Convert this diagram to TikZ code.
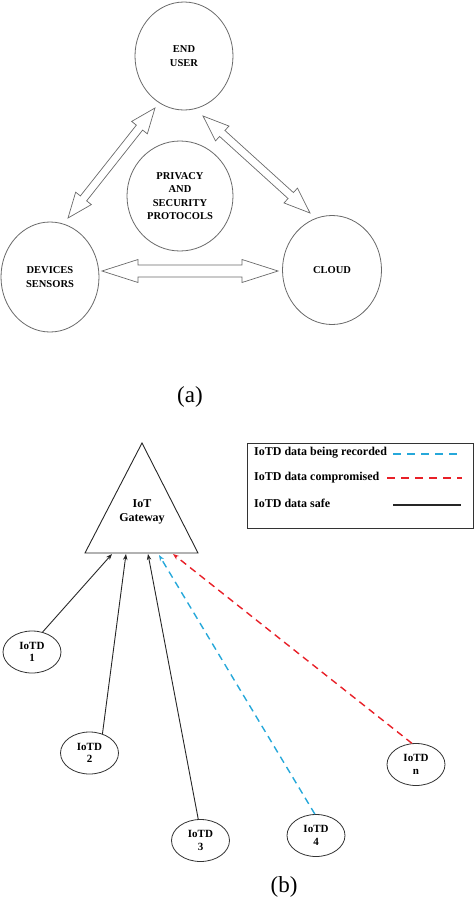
\documentclass[tikz,border=0pt]{standalone}
\usepackage{fontspec}
\setmainfont{Liberation Serif}
\usepackage{tikz}
\usetikzlibrary{arrows.meta,calc,shapes.geometric}

\definecolor{edgegray}{RGB}{105,105,105}
\definecolor{recblue}{RGB}{38,168,218}
\definecolor{badred}{RGB}{232,32,40}

% hollow double arrow between two tip points: tips, head length, head half width, shaft half width
\newcommand{\hollowarrow}[5]{%
  \draw[flowarrow] (#1)
    -- ($($(#1)!#3!(#2)$)!#4!90:(#2)$)
    -- ($($(#1)!#3!(#2)$)!#5!90:(#2)$)
    -- ($($(#2)!#3!(#1)$)!#5!-90:(#1)$)
    -- ($($(#2)!#3!(#1)$)!#4!-90:(#1)$)
    -- (#2)
    -- ($($(#2)!#3!(#1)$)!#4!90:(#1)$)
    -- ($($(#2)!#3!(#1)$)!#5!90:(#1)$)
    -- ($($(#1)!#3!(#2)$)!#5!-90:(#2)$)
    -- ($($(#1)!#3!(#2)$)!#4!-90:(#2)$)
    -- cycle;}

\tikzset{
  bubble/.style={ellipse,draw=edgegray,line width=0.8pt,inner sep=0pt,align=center,
    font=\bfseries\fontsize{10.5}{13.3}\selectfont},
  flowarrow/.style={draw=edgegray,line width=0.7pt,line join=miter},
  iotd/.style={ellipse,draw=black!80,line width=0.8pt,minimum width=58pt,minimum height=42pt,
    inner sep=0pt,align=center,font=\bfseries\fontsize{11}{12.3}\selectfont},
  gatetext/.style={align=center,font=\bfseries\fontsize{12}{13.3}\selectfont},
  legendtext/.style={anchor=west,inner sep=0pt,font=\bfseries\fontsize{12}{14}\selectfont},
  safe/.style={black!85,line width=0.9pt,-{Stealth[length=6pt,width=4.5pt]}},
  recorded/.style={recblue,line width=1.4pt,dash pattern=on 7pt off 5pt,-{Stealth[length=6pt,width=4.5pt]}},
  compromised/.style={badred,line width=1.4pt,dash pattern=on 7pt off 5pt,-{Stealth[length=6pt,width=4.5pt]}},
  caption/.style={font=\fontsize{23}{26}\selectfont}
}

\begin{document}
\begin{tikzpicture}[x=1pt,y=-1pt]
 \useasboundingbox (0,0) rectangle (474,900);

 % (a) actors around the protocols
 \node[bubble,minimum width=98pt,minimum height=108pt] (user) at (184,56) {END\\USER};
 \node[bubble,minimum width=106pt,minimum height=110pt] (proto) at (180,196) {PRIVACY\\AND\\SECURITY\\PROTOCOLS};
 \node[bubble,minimum width=98pt,minimum height=110pt] (dev) at (50,277) {DEVICES\\SENSORS};
 \node[bubble,minimum width=99pt,minimum height=109pt] (cloud) at (332,270) {CLOUD};

 \coordinate (user-l) at (155,108);
 \coordinate (dev-t) at (68,218);
 \coordinate (user-r) at (203,116);
 \coordinate (cloud-t) at (310,213);
 \coordinate (dev-r) at (102,271);
 \coordinate (cloud-l) at (278,271);
 \hollowarrow{dev-t}{user-l}{25pt}{10pt}{4pt}
 \hollowarrow{user-r}{cloud-t}{26pt}{10pt}{4pt}
 \hollowarrow{dev-r}{cloud-l}{36pt}{11.5pt}{6pt}

 \node[caption] (capa) at (190,397) {(a)};

 % (b) gateway and devices
 \coordinate (apex) at (142,443);
 \coordinate (gwl) at (85,553);
 \coordinate (gwr) at (198,553);
 \draw[black!85,line width=0.9pt] (apex) -- (gwr) -- (gwl) -- cycle;
 \node[gatetext] (gw) at (142,512) {IoT\\Gateway};

 \coordinate (g1) at (112,554);
 \coordinate (g2) at (126,554);
 \coordinate (g3) at (148,554);
 \coordinate (g4) at (159,555);
 \coordinate (g5) at (173,554);

 \node[iotd] (d1) at (32,652) {IoTD\\1};
 \node[iotd] (d2) at (89.5,753) {IoTD\\2};
 \node[iotd] (d3) at (200.5,840.5) {IoTD\\3};
 \node[iotd] (d4) at (316,835.5) {IoTD\\4};
 \node[iotd] (dn) at (416,764.5) {IoTD\\n};

 \draw[safe] (d1.62) -- (g1);
 \draw[safe] (d2.56) -- (g2);
 \draw[safe] (d3.96) -- (g3);
 \draw[recorded] (d4.93) -- (g4);
 \draw[compromised] (dn.101) -- (g5);

 % legend
 \draw[black!80,line width=0.9pt] (247,443) rectangle (473,528);
 \node[legendtext] (lrec) at (254,453) {IoTD data being recorded};
 \node[legendtext] (lbad) at (254,478) {IoTD data compromised};
 \node[legendtext] (lsafe) at (254,503) {IoTD data safe};
 \coordinate (lrec-a) at (393,454); \coordinate (lrec-b) at (458,454);
 \coordinate (lbad-a) at (387,478); \coordinate (lbad-b) at (462,478);
 \coordinate (lsafe-a) at (393,505); \coordinate (lsafe-b) at (461,505);
 \draw[recblue,line width=1.4pt,dash pattern=on 8pt off 6pt] (lrec-a) -- (lrec-b);
 \draw[badred,line width=1.4pt,dash pattern=on 8pt off 6pt] (lbad-a) -- (lbad-b);
 \draw[black!85,line width=1.4pt] (lsafe-a) -- (lsafe-b);

 \node[caption] (capb) at (284,887) {(b)};
\end{tikzpicture}
\end{document}
